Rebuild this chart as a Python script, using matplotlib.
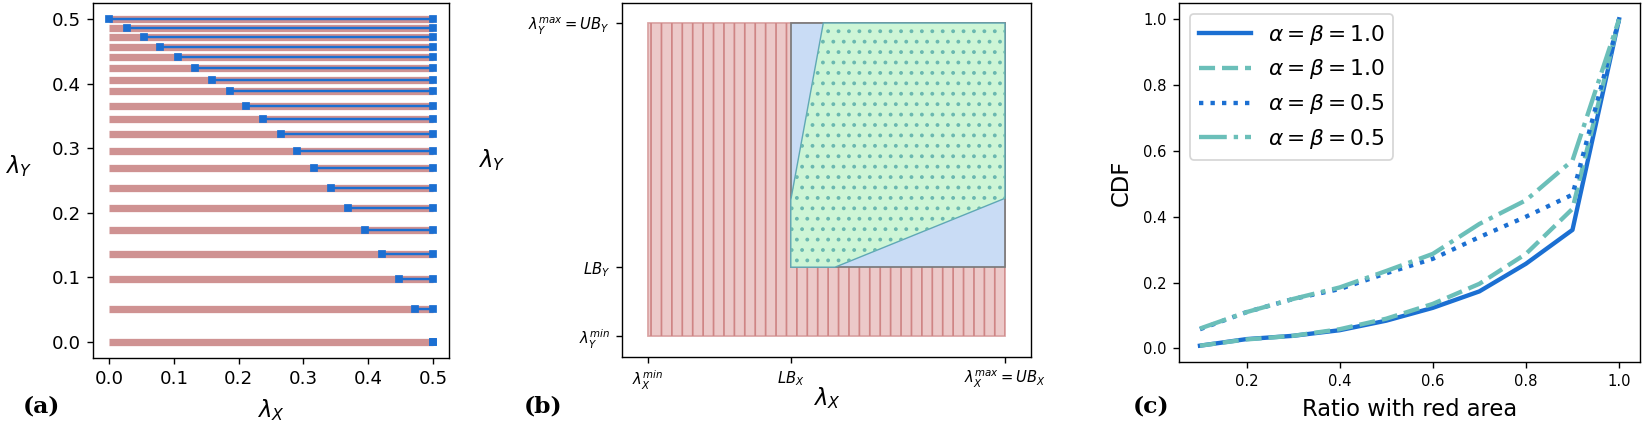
import matplotlib.pyplot as plt
from matplotlib.patches import Rectangle, Polygon

# (a) grid rows: lambda_Y of each row and where the blue segment starts
lam_y = [0.5, 0.486, 0.472, 0.457, 0.441, 0.424, 0.406, 0.388, 0.366, 0.345,
         0.322, 0.296, 0.269, 0.239, 0.208, 0.174, 0.136, 0.097, 0.051, 0.0]
lam_x_start = [0.0, 0.027, 0.054, 0.079, 0.107, 0.133, 0.159, 0.186, 0.212, 0.238,
               0.265, 0.290, 0.316, 0.343, 0.369, 0.395, 0.421, 0.447, 0.473, 0.5]
lam_x_max = 0.5

# (b) normalised bounds and the green (feasible) polygon
lam_min, lam_max = 0.0, 1.0
lb_x, lb_y = 0.40, 0.22
green_x = [0.491, 1.0, 1.0, 0.524, 0.40, 0.40]
green_y = [1.0, 1.0, 0.44, 0.22, 0.22, 0.435]

# (c) CDF of ratio with red area
ratio = [0.1, 0.2, 0.3, 0.4, 0.5, 0.6, 0.7, 0.8, 0.9, 1.0]
cdf_a = [0.008, 0.028, 0.038, 0.055, 0.084, 0.123, 0.173, 0.257, 0.36, 1.0]
cdf_b = [0.008, 0.027, 0.038, 0.058, 0.09, 0.135, 0.196, 0.287, 0.424, 1.0]
cdf_c = [0.058, 0.11, 0.15, 0.18, 0.228, 0.272, 0.338, 0.40, 0.467, 1.0]
cdf_d = [0.06, 0.11, 0.15, 0.185, 0.235, 0.287, 0.378, 0.45, 0.571, 1.0]
labels_c = [r'$\alpha=\beta=1.0$', r'$\alpha=\beta=1.0$',
            r'$\alpha=\beta=0.5$', r'$\alpha=\beta=0.5$']

BLUE = '#1b6fd2'
TEAL = '#6bbfb9'
RED = '#cf9292'

W, H = 1645, 421
fig = plt.figure(figsize=(W / 125, H / 125), dpi=125)


def box(l, t, r, b):
    return [l / W, 1 - b / H, (r - l) / W, (b - t) / H]


# ---------------- (a)
ax = fig.add_axes(box(93, 3, 449, 358))
for y, xs in zip(lam_y, lam_x_start):
    ax.plot([0, lam_x_max], [y, y], color=RED, lw=4.2, solid_capstyle='butt', zorder=1)
    ax.plot([xs, lam_x_max], [y, y], color=BLUE, lw=1.4, marker='s', ms=4.0, zorder=2)
ax.set_xlim(-0.025, 0.525)
ax.set_ylim(-0.025, 0.525)
ax.set_xticks([0.0, 0.1, 0.2, 0.3, 0.4, 0.5])
ax.set_yticks([0.0, 0.1, 0.2, 0.3, 0.4, 0.5])
ax.tick_params(labelsize=10.5)
ax.set_xlabel(r'$\lambda_X$', fontsize=13)
ax.xaxis.set_label_coords(0.5, -0.11)
ax.set_ylabel(r'$\lambda_Y$', fontsize=13, rotation=0, va='center', ha='center')
ax.yaxis.set_label_coords(-0.21, 0.54)

# ---------------- (b)
ax = fig.add_axes(box(622, 3, 1031, 357))
w, h = lam_max - lam_min, lam_max - lam_min
ax.add_patch(Rectangle((lam_min, lam_min), w, h, fc='#ecc9c9', ec='#d9a2a2', lw=1.0, zorder=1))
ax.add_patch(Rectangle((lam_min, lam_min), w, h, fc='none', ec='#cf8585', lw=0, hatch='||', zorder=2))
ax.add_patch(Rectangle((lb_x, lb_y), lam_max - lb_x, lam_max - lb_y,
                       fc='#c9dcf5', ec='#7a7a7a', lw=1.0, zorder=3))
pts = list(zip(green_x, green_y))
ax.add_patch(Polygon(pts, closed=True, fc='#cdf5d6', ec='#5fa8b5', lw=0.8, zorder=4))
ax.add_patch(Polygon(pts, closed=True, fc='none', ec='#6ab8b0', lw=0, hatch='..', zorder=5))
ax.set_xlim(-0.073, 1.073)
ax.set_ylim(-0.067, 1.064)
ax.set_xticks([lam_min, lb_x, lam_max])
ax.set_xticklabels([r'$\lambda_X^{min}$', r'$LB_X$', r'$\lambda_X^{max}=UB_X$'])
ax.set_yticks([lam_min, lb_y, lam_max])
ax.set_yticklabels([r'$\lambda_Y^{min}$', r'$LB_Y$', r'$\lambda_Y^{max}=UB_Y$'])
ax.tick_params(labelsize=8.5)
ax.set_xlabel(r'$\lambda_X$', fontsize=13)
ax.xaxis.set_label_coords(0.5, -0.08)
ax.set_ylabel(r'$\lambda_Y$', fontsize=13, rotation=0, va='center', ha='center')
ax.yaxis.set_label_coords(-0.318, 0.556)

# ---------------- (c)
ax = fig.add_axes(box(1179, 3, 1640, 362))
ax.plot(ratio, cdf_a, color=BLUE, lw=2.5, ls='-', label=labels_c[0])
ax.plot(ratio, cdf_b, color=TEAL, lw=2.5, ls='--', label=labels_c[1])
ax.plot(ratio, cdf_c, color=BLUE, lw=2.5, ls=':', label=labels_c[2])
ax.plot(ratio, cdf_d, color=TEAL, lw=2.5, ls='-.', label=labels_c[3])
ax.set_xticks([0.2, 0.4, 0.6, 0.8, 1.0])
ax.set_yticks([0.0, 0.2, 0.4, 0.6, 0.8, 1.0])
ax.tick_params(labelsize=8.5)
ax.set_xlabel('Ratio with red area', fontsize=13)
ax.xaxis.set_label_coords(0.5, -0.1)
ax.set_ylabel('CDF', fontsize=13)
ax.yaxis.set_label_coords(-0.1, 0.5)
ax.legend(loc='upper left', fontsize=12.5, handlelength=2.4)

# panel tags
for x, tag in [(23, '(a)'), (524, '(b)'), (1133, '(c)')]:
    fig.text(x / W, 1 - 407 / H, tag, fontsize=13.5, fontweight='bold',
             family='DejaVu Serif', va='center', ha='left')

fig.savefig('out.png', dpi=125)
